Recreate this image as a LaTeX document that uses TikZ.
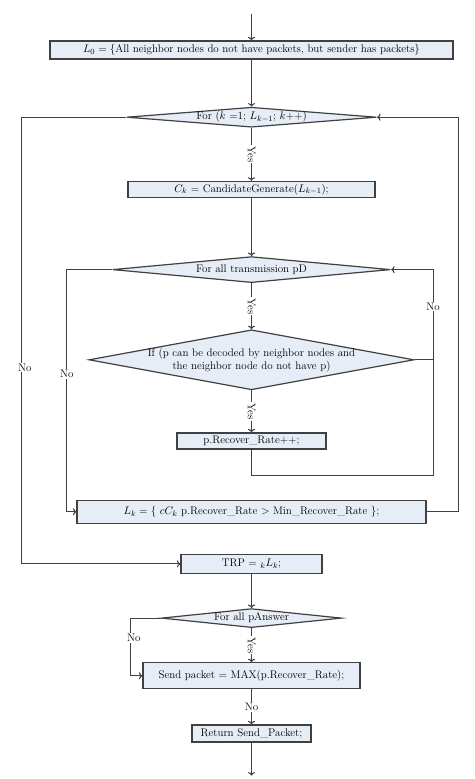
\documentclass[tikz,border=0pt]{standalone}
\usepackage{amsmath,amssymb}
\usepackage{xcolor}
\usepackage{tikz}
\usetikzlibrary{
    shapes.geometric, arrows, arrows.meta, positioning, calc
}
\definecolor{boxblue}{RGB}{230, 237, 247}
\definecolor{linegray}{RGB}{64, 64, 64}

\begin{document}
\begin{tikzpicture}[
        font=\fontsize{11}{13}\selectfont,
        node distance=40pt,
        >={To[length=3.5pt, width=7pt]},
        box/.style={
            rectangle, draw=linegray, fill=boxblue, line width=1.2pt,
            minimum width=#1, inner sep=0pt, align=center,
        },
        cond/.style={
            diamond, draw=linegray, fill=boxblue, line width=1.2pt,
            inner sep=-1pt, align=center,
        },
        line/.style={->, draw=linegray, line width=1.1pt},
        yeslbl/.style={fill=white, rotate=-90, inner sep=1pt},
        nolbl/.style={fill=white, inner sep=1pt},
    ]
        \useasboundingbox (-251.5pt,50pt) rectangle (222.5pt,-729pt);

        \node[box=403pt, minimum height=18pt] (L0)
            {$L_0 = \{$All neighbor nodes do not have packets, but sender has packets$\}$};
        \node[cond, below=47pt of L0, minimum width=250pt, minimum height=20pt, aspect=12.5] (forK)
            {For ($k$ =1; $L_{k-1}$; $k$++)};
        \node[box=247pt, minimum height=16pt, below=53pt of forK] (Ck)
            {$C_k$ = CandidateGenerate($L_{k-1}$);};
        \node[cond, below=58pt of Ck, minimum width=278pt, minimum height=26pt, aspect=10.7] (forP)
            {For all transmission pD};
        \node[cond, below=46pt of forP, minimum width=325pt, minimum height=60pt, aspect=5.4,
            inner xsep=-10pt] (ifDec)
            {If (p can be decoded by neighbor nodes and\\the neighbor node do not have p)};
        \node[box=149pt, minimum height=16pt, below=42pt of ifDec] (recRate)
            {p.Recover\_Rate++;};
        \node[box=349pt, minimum height=23pt, below=50pt of recRate] (Lk)
            {$L_k = \{\ cC_k$ p.Recover\_Rate $>$ Min\_Recover\_Rate $\}$;};
        \node[box=141pt, minimum height=19pt, below=30pt of Lk] (TRP)
            {TRP = ${}_kL_k$;};
        \node[cond, below=34pt of TRP, minimum width=180pt, minimum height=19pt, aspect=9.5] (forAns)
            {For all pAnswer};
        \node[box=217pt, minimum height=26pt, below=34pt of forAns] (sendPkt)
            {Send packet = MAX(p.Recover\_Rate);};
        \node[box=119pt, minimum height=17pt, below=35pt of sendPkt] (retPkt)
            {Return Send\_Packet;};

        \coordinate[above=26pt of L0] (start);
        \coordinate[below=33pt of retPkt] (end);
        \coordinate (rLoop) at ($(forP.east)+(42pt,0)$);

        % main line
        \draw[line] (start) -- (L0);
        \draw[line] (L0) -- (forK);
        \draw[line] (forK) -- node[yeslbl] {Yes} (Ck);
        \draw[line] (Ck) -- (forP);
        \draw[line] (forP) -- node[yeslbl] {Yes} (ifDec);
        \draw[line] (ifDec) -- node[yeslbl] {Yes} (recRate);
        \draw[line] (TRP) -- (forAns);
        \draw[line] (forAns) -- node[yeslbl] {Yes} (sendPkt);
        \draw[line] (sendPkt) -- node[nolbl] {No} (retPkt);
        \draw[line] (retPkt) -- (end);

        % loops
        \draw[line] (forK.west) -- ++(-104pt,0) |- node[nolbl, pos=0.28, xshift=3pt] {No} (TRP.west);
        \draw[line] (forP.west) -- ++(-45pt,0) |- node[nolbl, pos=0.215] {No} (Lk.west);
        \draw[line] (Lk.east) -- ++(32pt,0) |- (forK.east);
        \draw[line] (recRate.south) -- ++(0,-26pt) -| node[nolbl, pos=0.91] {No} (rLoop) -- (forP.east);
        \draw[draw=linegray, line width=1.1pt] (ifDec.east) -- (ifDec.east -| rLoop);
        \draw[line] (forAns.west) -- ++(-30pt,0) |- node[nolbl, pos=0.17, xshift=3pt] {No} (sendPkt.west);
    \end{tikzpicture}
\end{document}
